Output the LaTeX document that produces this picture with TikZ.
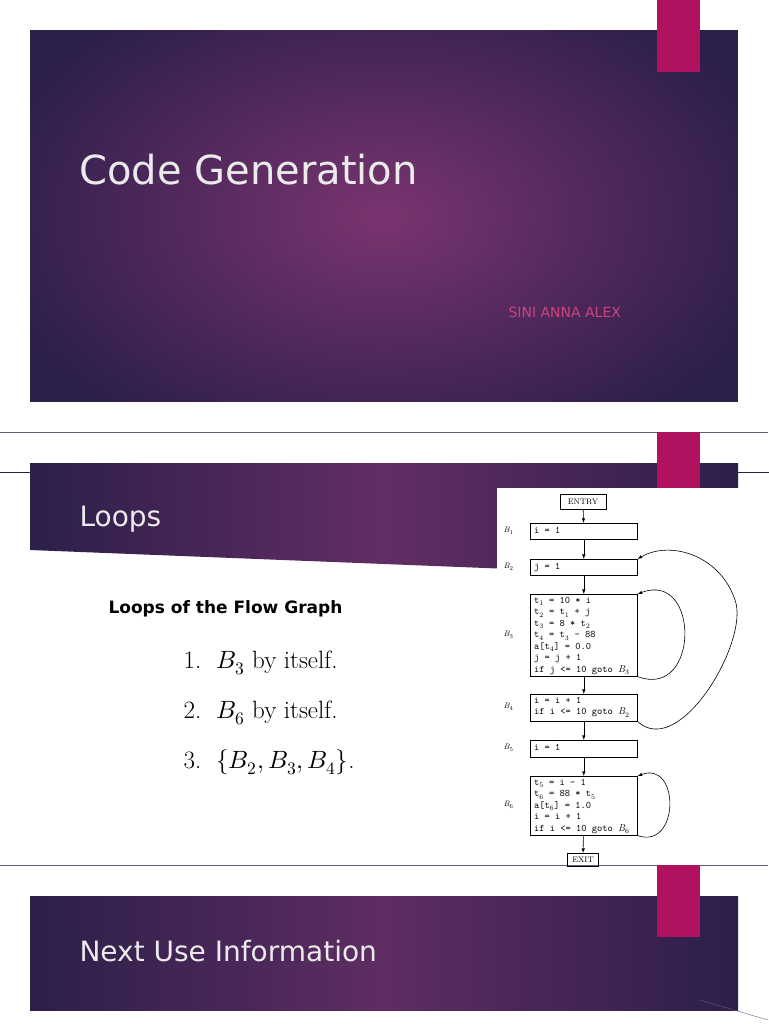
\documentclass[tikz,border=0pt]{standalone}
\usepackage{fontspec}
\setmainfont{DejaVu Sans}
\usepackage{unicode-math}
\setmathfont{Latin Modern Math}
\newfontfamily\lmr{Latin Modern Roman}
\newfontfamily\lmt{Latin Modern Mono}
\begin{document}
\begin{tikzpicture}[x=1pt,y=-1pt,
  tab/.style={fill=tabc,draw=none},
  cb/.style={draw,line width=0.6pt,minimum width=107pt,anchor=north west,inner sep=0pt},
  code/.style={font=\lmt\fontsize{10}{11.5}\selectfont,align=left,anchor=north west,inner sep=0pt},
  bl/.style={font=\lmr\itshape\fontsize{8}{9}\selectfont,anchor=west},
  ar/.style={-latex,line width=0.6pt},
  ttl/.style={font=\fontsize{28}{32}\selectfont,text=white!92!black,anchor=west}]
\definecolor{tabc}{HTML}{B0125F}
\definecolor{pin}{HTML}{7A3470}
\definecolor{pout}{HTML}{2C1F4A}
\definecolor{sep}{HTML}{6A5A78}
\useasboundingbox (0,0) rectangle (768,1024);
\fill[white] (0,0) rectangle (768,1024);
% slide 1
\shade[inner color=pin,outer color=pout] (-20,-40) rectangle (788,472);
\fill[white] (-20,-40) rectangle (788,30);
\fill[white] (-20,402) rectangle (788,472);
\fill[white] (-20,-40) rectangle (30,472);
\fill[white] (738,-40) rectangle (788,472);
\fill[tab] (657,0) rectangle (700,72);
\node[ttl,font=\fontsize{40}{44}\selectfont] (t1) at (76,170) {Code Generation};
\node[anchor=west,text=tabc!70!pink,font=\fontsize{14}{16}\selectfont] (au) at (505,312) {SINI ANNA ALEX};
\draw[sep,line width=0.8pt] (0,432) -- (768,432);
% slide 2
\shade[left color=pout,right color=pout,middle color=pin!70!pout] (30,463) -- (738,463) -- (738,578) -- (30,550) -- cycle;
\fill[tab] (657,432) rectangle (700,503);
\node[ttl] (t2) at (76,519) {Loops};
\node[anchor=west,font=\bfseries\fontsize{17}{20}\selectfont] (lh) at (105,609) {Loops of the Flow Graph};
\node[anchor=west,font=\lmr\fontsize{25}{28}\selectfont] (l1) at (180,663) {1.\ \ $B_3$ by itself.};
\node[anchor=west,font=\lmr\fontsize{25}{28}\selectfont] (l2) at (180,713) {2.\ \ $B_6$ by itself.};
\node[anchor=west,font=\lmr\fontsize{25}{28}\selectfont] (l3) at (180,762) {3.\ \ $\{B_2,B_3,B_4\}$.};
\draw[sep,line width=0.8pt] (0,865) -- (768,865);
% flow graph
\fill[white] (497,488) rectangle (768,865);
\node[draw,line width=0.6pt,font=\lmr\fontsize{8}{9}\selectfont,minimum width=46pt,minimum height=15pt,inner sep=0pt] (en) at (583,501.5) {ENTRY};
\node[cb,minimum height=16pt] (b1) at (530,523) {};
\node[code] at (534,527) {i = 1};
\node[cb,minimum height=16pt] (b2) at (530,559) {};
\node[code] at (534,563) {j = 1};
\node[cb,minimum height=82pt] (b3) at (530,594) {};
\node[code] at (534,597) {t$_1$ = 10 * i\\t$_2$ = t$_1$ + j\\t$_3$ = 8 * t$_2$\\t$_4$ = t$_3$ - 88\\a[t$_4$] = 0.0\\j = j + 1\\if j <= 10 goto {\lmr\itshape B}$_3$};
\node[cb,minimum height=27pt] (b4) at (530,694) {};
\node[code] at (534,697) {i = i + 1\\if i <= 10 goto {\lmr\itshape B}$_2$};
\node[cb,minimum height=17pt] (b5) at (530,740) {};
\node[code] at (534,744) {i = 1};
\node[cb,minimum height=59pt] (b6) at (530,776) {};
\node[code] at (534,779) {t$_5$ = i - 1\\t$_6$ = 88 * t$_5$\\a[t$_6$] = 1.0\\i = i + 1\\if i <= 10 goto {\lmr\itshape B}$_6$};
\node[draw,line width=0.6pt,font=\lmr\fontsize{8}{9}\selectfont,minimum width=31pt,minimum height=13pt,inner sep=0pt,anchor=north] (ex) at (583,853) {EXIT};
\node[bl] at (500,531) {B$_1$};
\node[bl] at (500,567) {B$_2$};
\node[bl] at (500,635) {B$_3$};
\node[bl] at (500,707) {B$_4$};
\node[bl] at (500,748) {B$_5$};
\node[bl] at (500,805) {B$_6$};
\draw[ar] (en) -- (b1);
\draw[ar] (b1) -- (b2);
\draw[ar] (b2) -- (b3);
\draw[ar] (b3) -- (b4);
\draw[ar] (b4) -- (b5);
\draw[ar] (b5) -- (b6);
\draw[ar] (b6) -- (ex);
\draw[ar] (b3.south east) .. controls (700,700) and (700,570) .. (b3.north east);
\draw[ar] (b4.south east) .. controls (680,760) and (750,640) .. (735,600) .. controls (720,555) and (670,540) .. (b2.north east);
\draw[ar] (b6.south east) .. controls (680,850) and (680,760) .. (b6.north east);
% slide 3
\shade[left color=pout,right color=pout,middle color=pin!65!pout] (30,896) -- (738,896) -- (738,1010) -- (30,1010) -- cycle;
\fill[tab] (657,865) rectangle (700,937);
\draw[sep] (700,1000) -- (768,1020);
\node[ttl] (t3) at (76,951) {Next Use Information};
\end{tikzpicture}
\end{document}
